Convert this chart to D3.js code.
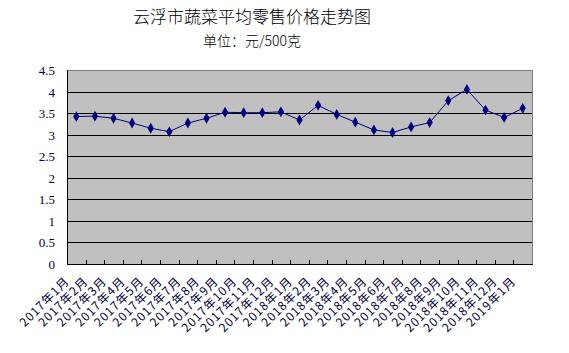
<!DOCTYPE html>
<html>
<head>
<meta charset="utf-8">
<script src="https://cdn.jsdelivr.net/npm/d3@7"></script>
<style>
body { margin: 0; background: #fff; }
text { font-family: "Noto Sans CJK SC", sans-serif; }
</style>
</head>
<body>
<div id="chart"></div>
<script>
// months 2017-1 .. 2019-1
var months = ["2017年1月","2017年2月","2017年3月","2017年4月","2017年5月","2017年6月",
  "2017年7月","2017年8月","2017年9月","2017年10月","2017年11月","2017年12月",
  "2018年1月","2018年2月","2018年3月","2018年4月","2018年5月","2018年6月",
  "2018年7月","2018年8月","2018年9月","2018年10月","2018年11月","2018年12月","2019年1月"]
var prices = [3.42, 3.43, 3.38, 3.27, 3.15, 3.07, 3.27, 3.38, 3.52, 3.51, 3.51, 3.53,
  3.34, 3.68, 3.47, 3.29, 3.11, 3.05, 3.18, 3.28, 3.79, 4.05, 3.57, 3.40, 3.61]
var yTicks = [0, 0.5, 1, 1.5, 2, 2.5, 3, 3.5, 4, 4.5]

var W = 569, H = 353
var pLeft = 67, pRight = 532, pTop = 70, pBottom = 264

var svg = d3.select("#chart").append("svg")
  .attr("width", W)
  .attr("height", H)

var x = d3.scaleBand().domain(months).range([pLeft, pRight])
var y = d3.scaleLinear().domain([0, 4.5]).range([pBottom, pTop])

// plot area
svg.append("rect")
  .attr("x", pLeft + 0.5).attr("y", pTop + 0.5)
  .attr("width", pRight - pLeft).attr("height", pBottom - pTop)
  .attr("fill", "#c0c0c0")
  .attr("stroke", "#808080")

// gridlines
svg.append("g").selectAll("line")
  .data(yTicks.filter(d => d > 0 && d < 4.5))
  .enter().append("line")
  .attr("x1", pLeft).attr("x2", pRight)
  .attr("y1", d => Math.round(y(d)) + 0.5).attr("y2", d => Math.round(y(d)) + 0.5)
  .attr("stroke", "#000")

// axes lines
svg.append("line")
  .attr("x1", pLeft + 0.5).attr("x2", pLeft + 0.5)
  .attr("y1", pTop).attr("y2", pBottom + 1)
  .attr("stroke", "#000")
svg.append("line")
  .attr("x1", pLeft).attr("x2", pRight + 1)
  .attr("y1", pBottom + 0.5).attr("y2", pBottom + 0.5)
  .attr("stroke", "#000")

// x ticks at category boundaries, pointing inward
svg.append("g").selectAll("line")
  .data(months.slice(1))
  .enter().append("line")
  .attr("x1", d => Math.round(x(d)) + 0.5).attr("x2", d => Math.round(x(d)) + 0.5)
  .attr("y1", pBottom).attr("y2", pBottom - 4)
  .attr("stroke", "#000")

// y tick labels
svg.append("g").selectAll("text")
  .data(yTicks)
  .enter().append("text")
  .attr("x", 55)
  .attr("y", d => y(d) + 5)
  .attr("text-anchor", "end")
  .attr("font-size", 13)
  .style("font-family", "'Liberation Serif', serif")
  .attr("fill", "#000040")
  .text(d => d)

// x labels
svg.append("g").selectAll("text")
  .data(months)
  .enter().append("text")
  .attr("transform", d => "translate(" + (x(d) + x.bandwidth() / 2 - 6) + "," + 282 + ") rotate(-45)")
  .attr("text-anchor", "end")
  .attr("font-size", 12)
  .attr("letter-spacing", 1)
  .attr("fill", "#000040")
  .text(d => d)

// line
var line = d3.line()
  .x((d, i) => x(months[i]) + x.bandwidth() / 2)
  .y(d => y(d))

svg.append("path")
  .datum(prices)
  .attr("d", line)
  .attr("fill", "none")
  .attr("stroke", "#000080")
  .attr("stroke-width", 1)

svg.append("g").selectAll("path")
  .data(prices)
  .enter().append("path")
  .attr("d", d3.symbol(d3.symbolDiamond, 34))
  .attr("transform", (d, i) => "translate(" + (x(months[i]) + x.bandwidth() / 2) + "," + y(d) + ")")
  .attr("fill", "#000080")

// titles
svg.append("text")
  .attr("x", 252).attr("y", 23)
  .attr("text-anchor", "middle")
  .attr("font-size", 17)
  .attr("font-weight", 300)
  .text("云浮市蔬菜平均零售价格走势图")

svg.append("text")
  .attr("x", 252).attr("y", 46)
  .attr("text-anchor", "middle")
  .attr("font-size", 14)
  .attr("font-weight", 300)
  .text("单位：元/500克")
</script>
</body>
</html>
